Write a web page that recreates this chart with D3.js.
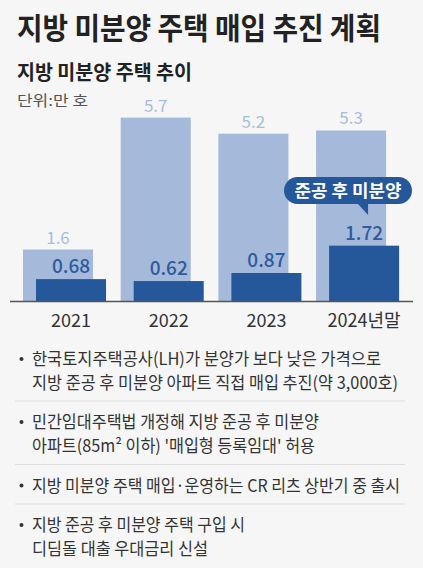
<!DOCTYPE html>
<html><head><meta charset="utf-8">
<script src="https://cdn.jsdelivr.net/npm/d3@7"></script>
<style>
html,body{margin:0;padding:0;background:#f6f6f6;}
svg{display:block;}
text{font-family:"Noto Sans CJK KR","Noto Sans",sans-serif;}
</style></head>
<body>
<svg id="chart" width="423" height="568"></svg>
<script>
const categories = ["2021", "2022", "2023", "2024년말"];
const unsoldTotal = [1.6, 5.7, 5.2, 5.3];        // 지방 미분양
const unsoldCompleted = [0.68, 0.62, 0.87, 1.72]; // 준공 후 미분양
const titleText = "지방 미분양 주택 매입 추진 계획";
const subtitleText = "지방 미분양 주택 추이";
const unitText = "단위:만 호";
const calloutText = "준공 후 미분양";
const bullets = [
  ["한국토지주택공사(LH)가 분양가 보다 낮은 가격으로", "지방 준공 후 미분양 아파트 직접 매입 추진(약 3,000호)"],
  ["민간임대주택법 개정해 지방 준공 후 미분양", "아파트(85m² 이하) '매입형 등록임대' 허용"],
  ["지방 미분양 주택 매입·운영하는 CR 리츠 상반기 중 출시"],
  ["지방 준공 후 미분양 주택 구입 시", "디딤돌 대출 우대금리 신설"]
];

const svg = d3.select("#chart");
svg.append("rect").attr("width",423).attr("height",568).attr("fill","#f6f6f6");

// Titles
svg.append("text").attr("x",17).attr("y",39).attr("font-size",30).attr("font-weight",700)
  .attr("fill","#222").attr("textLength",364).attr("lengthAdjust","spacingAndGlyphs").text(titleText);
svg.append("text").attr("x",17).attr("y",80).attr("font-size",20).attr("font-weight",700)
  .attr("fill","#222").attr("textLength",175).attr("lengthAdjust","spacingAndGlyphs").text(subtitleText);
svg.append("text").attr("x",17).attr("y",106).attr("font-size",15).attr("font-weight",400)
  .attr("fill","#555").attr("textLength",71).attr("lengthAdjust","spacingAndGlyphs").text(unitText);

// Scales
const x = d3.scaleBand().domain(categories).range([23, 399.1]).paddingInner(0.15).paddingOuter(0);
const y = d3.scaleLinear().domain([0, 6]).range([301, 301 - 6*32.17]);
const bw = x.bandwidth();
const barW = bw * 70/83;
const off = bw - barW;

const lightC = "#a5b9da", darkC = "#25579b";

const g = svg.append("g");
g.selectAll(".lb").data(categories).join("rect").attr("class","lb")
  .attr("x", d => x(d)).attr("width", barW)
  .attr("y", (d,i) => y(unsoldTotal[i])).attr("height", (d,i) => y(0) - y(unsoldTotal[i]))
  .attr("fill", lightC);
g.selectAll(".db").data(categories).join("rect").attr("class","db")
  .attr("x", d => x(d) + off).attr("width", barW)
  .attr("y", (d,i) => y(unsoldCompleted[i])).attr("height", (d,i) => y(0) - y(unsoldCompleted[i]))
  .attr("fill", darkC);

// value labels
g.selectAll(".ll").data(categories).join("text").attr("class","ll")
  .attr("x", d => x(d) + barW/2).attr("y", (d,i) => y(unsoldTotal[i]) - 6)
  .attr("text-anchor","middle").attr("font-size",17).attr("fill","#a7bde0")
  .text((d,i) => unsoldTotal[i]);
g.selectAll(".dl").data(categories).join("text").attr("class","dl")
  .attr("x", d => x(d) + off + barW/2).attr("y", (d,i) => y(unsoldCompleted[i]) - 6)
  .attr("text-anchor","middle").attr("font-size",19).attr("font-weight",500).attr("fill","#2d5b9d")
  .text((d,i) => unsoldCompleted[i]);

// baseline
svg.append("line").attr("x1",10).attr("x2",413).attr("y1",y(0)+0.5).attr("y2",y(0)+0.5)
  .attr("stroke","#555").attr("stroke-width",1.6);

// axis labels
const ax = svg.append("g").attr("transform",`translate(${off/2},${y(0)})`)
  .call(d3.axisBottom(x).tickSize(0).tickPadding(10));
ax.select(".domain").remove();
ax.selectAll("text").attr("font-size",18).attr("fill","#333")
  .style("font-family","'Noto Sans CJK KR',sans-serif").attr("dy","0.9em");

// callout
const last = categories[categories.length-1];
const lastDarkX = x(last) + off + barW/2;
const cb = {x0: 284, x1: 412, y0: 177, y1: 204};
const cg = svg.append("g");
cg.append("rect").attr("x",cb.x0).attr("y",cb.y0).attr("width",cb.x1-cb.x0).attr("height",cb.y1-cb.y0)
  .attr("rx",13.5).attr("fill",darkC);
const tipX = lastDarkX + 4;
cg.append("path").attr("d",`M${tipX-11},${cb.y1-1} L${tipX},${cb.y1-1} L${tipX},${cb.y1+11} Z`).attr("fill",darkC);
cg.append("text").attr("x",(cb.x0+cb.x1)/2).attr("y",197).attr("text-anchor","middle")
  .attr("font-size",17).attr("font-weight",700).attr("fill","#fff")
  .attr("textLength",107).attr("lengthAdjust","spacingAndGlyphs").text(calloutText);

// bullets
const lineBase = [[365, 388.5],[428, 451.5],[491.5],[531, 554.5]];
const lineLen = [[349, 366],[287, 283],[368],[213, 176]];
const seps = [401, 464.5, 504];
const bg = svg.append("g");
bullets.forEach((lines, bi) => {
  bg.append("circle").attr("cx",21.5).attr("cy",lineBase[bi][0]-6).attr("r",2).attr("fill","#333");
  lines.forEach((t, li) => {
    bg.append("text").attr("x",32).attr("y",lineBase[bi][li]).attr("font-size",17)
      .attr("fill","#333").attr("textLength",lineLen[bi][li]).attr("lengthAdjust","spacingAndGlyphs").text(t);
  });
});
seps.forEach(s => bg.append("line").attr("x1",15).attr("x2",405).attr("y1",s).attr("y2",s)
  .attr("stroke","#dedede").attr("stroke-width",1));
</script>
</body></html>
